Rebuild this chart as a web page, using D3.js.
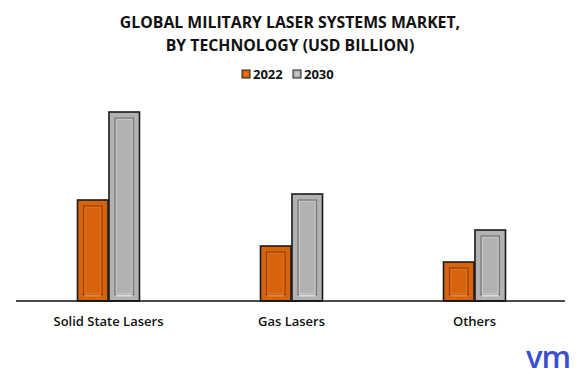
<!DOCTYPE html>
<html><head><meta charset="utf-8">
<script src="https://cdn.jsdelivr.net/npm/d3@7"></script>
<style>body{margin:0;background:#fff}svg{display:block}text{font-family:"Open Sans",sans-serif}</style>
</head><body><svg id="c" width="579" height="379"></svg>
<script>
const categories = ["Solid State Lasers", "Gas Lasers", "Others"];
const seriesNames = ["2022", "2030"];
const values2022 = [2.02, 1.10, 0.78];
const values2030 = [3.78, 2.14, 1.42];
const titleLines = ["GLOBAL MILITARY LASER SYSTEMS MARKET,", "BY TECHNOLOGY (USD BILLION)"];

const svg = d3.select("#c");
const colors = {"2022": {fill:"#d8630f", dark:"#7a3205", light:"#f08a3a"}, "2030": {fill:"#b3b1b1", dark:"#5f5f5f", light:"#e6e6e6"}};
const x0 = d3.scaleBand().domain(categories).range([17, 566]);
const x1 = d3.scaleBand().domain(seriesNames).range([x0.bandwidth()/2 - 31, x0.bandwidth()/2 + 31]).paddingInner(0.03);
const y = d3.scaleLinear().domain([0, 4]).range([301, 101]);

svg.selectAll(".t").data(titleLines).enter().append("text")
  .attr("x", 290).attr("y", (d,i)=>28 + i*23).attr("text-anchor","middle")
  .attr("font-size", 15.8).attr("font-weight", 700).attr("fill","#111").text(d=>d);

const leg = svg.append("g");
const legX = [242, 293];
seriesNames.forEach((s,i)=>{
  const g = leg.append("g").attr("transform", `translate(${legX[i]},70)`);
  g.append("rect").attr("width",8).attr("height",8).attr("fill",colors[s].fill).attr("stroke","#222").attr("stroke-width",1);
  g.append("rect").attr("x",2.5).attr("y",2.5).attr("width",3).attr("height",3).attr("fill",colors[s].light).attr("opacity",0.6);
  g.append("text").attr("x",11).attr("y",9).attr("font-size",13).attr("font-weight",700).attr("fill","#111").text(s);
});

const data = categories.map((c,i)=>({cat:c, vals:[{s:"2022", v:values2022[i]},{s:"2030", v:values2030[i]}]}));
const groups = svg.selectAll(".g").data(data).enter().append("g").attr("transform", d=>`translate(${x0(d.cat)},0)`);
const bars = groups.selectAll(".b").data(d=>d.vals).enter().append("g");
bars.each(function(d){
  const g = d3.select(this);
  const bx = x1(d.s), bw = x1.bandwidth(), top = y(d.v), h = y(0) - top;
  const c = colors[d.s];
  g.append("rect").attr("x",bx).attr("y",top).attr("width",bw).attr("height",h).attr("fill",c.fill).attr("stroke","#1a1a1a").attr("stroke-width",1.6);
  g.append("rect").attr("x",bx+6).attr("y",top+6).attr("width",bw-12).attr("height",Math.max(0,h-12))
    .attr("fill","none").attr("stroke",c.dark).attr("stroke-width",1.2).attr("opacity",0.7);
  g.append("rect").attr("x",bx+7.5).attr("y",top+7.5).attr("width",bw-15).attr("height",Math.max(0,h-15))
    .attr("fill","none").attr("stroke",c.light).attr("stroke-width",0.8).attr("opacity",0.5);
  g.append("rect").attr("x",bx+7).attr("y",y(0)-6.5).attr("width",bw-14).attr("height",2).attr("fill",c.light).attr("opacity",0.9);
});

svg.append("line").attr("x1",16).attr("x2",565).attr("y1",301).attr("y2",301).attr("stroke","#111").attr("stroke-width",1.6);

svg.selectAll(".cl").data(categories).enter().append("text")
  .attr("x", d=>x0(d)+x0.bandwidth()/2).attr("y", 326).attr("text-anchor","middle")
  .attr("font-size",13).attr("font-weight",600).attr("fill","#111").text(d=>d);

svg.append("text").attr("x",548).attr("y",368).attr("text-anchor","middle").attr("font-size",31).attr("font-weight",600)
  .attr("fill","#3a4fd0").attr("letter-spacing",-1).text("vm");
</script></body></html>
